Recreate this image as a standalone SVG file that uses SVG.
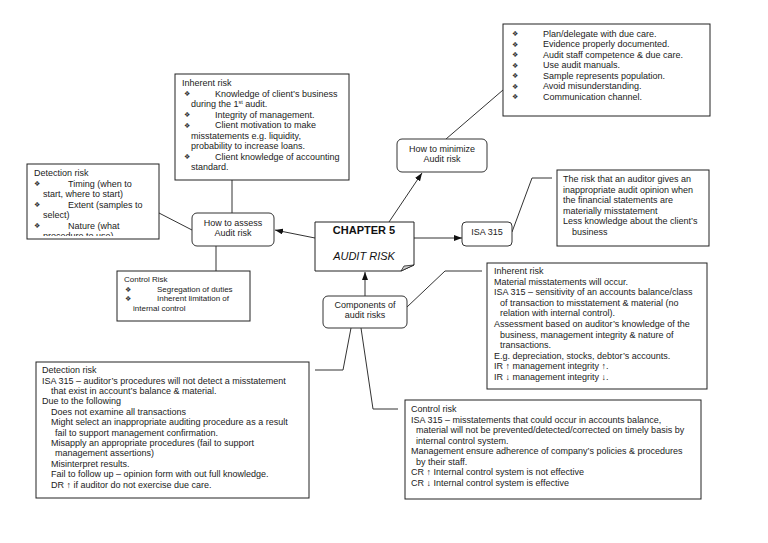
<svg xmlns="http://www.w3.org/2000/svg" width="768" height="543" viewBox="0 0 768 543">
<style>
.box{fill:#fff;stroke:#222;stroke-width:1}
.rbox{fill:#fff;stroke:#333;stroke-width:1}
.t{font-family:"Liberation Sans",Arial,sans-serif;font-size:9px;fill:#222}
.s{font-family:"Liberation Sans",Arial,sans-serif;font-size:8px;fill:#222}
.c{text-anchor:middle}
.b{font-family:"DejaVu Sans",sans-serif;font-size:7px;fill:#333}
.ln{fill:none;stroke:#333;stroke-width:1}
</style>
<defs>
<marker id="ar" markerWidth="8" markerHeight="6" refX="8" refY="3" orient="auto" markerUnits="userSpaceOnUse">
<path d="M0,0 L8,3 L0,6 Z" fill="#111"/>
</marker>
<clipPath id="clipDet"><rect x="27" y="164" width="132" height="72"/></clipPath>
</defs>
<rect width="768" height="543" fill="#fff"/>

<g id="connectors">
<line class="ln" x1="414" y1="238" x2="462" y2="238" marker-end="url(#ar)"/>
<line class="ln" x1="389" y1="222" x2="422" y2="173" marker-end="url(#ar)"/>
<line class="ln" x1="315" y1="238" x2="275" y2="230" marker-end="url(#ar)"/>
<line class="ln" x1="365" y1="296" x2="365" y2="272" marker-end="url(#ar)"/>
<line class="ln" x1="446" y1="139" x2="503" y2="90"/>
<polyline class="ln" points="512,232 532,178 552,178"/>
<line class="ln" x1="232" y1="213" x2="232" y2="180"/>
<line class="ln" x1="192" y1="230" x2="159" y2="213"/>
<line class="ln" x1="216" y1="246" x2="216" y2="271"/>
<polyline class="ln" points="407,307 445,271 482,271"/>
<polyline class="ln" points="351,328 343,370 315,370"/>
<polyline class="ln" points="361,328 373,409 398,409"/>
</g>

<g id="chapter">
<path class="box" d="M315,222 H414 V265 L401,271 H315 Z"/>
<path d="M401,271 L404,266 L414,265 Z" fill="#ccc" stroke="#222" stroke-width="0.8"/>
<text x="364" y="234" class="c" font-family="'Liberation Sans',Arial,sans-serif" font-size="11" font-weight="bold" fill="#111">CHAPTER 5</text>
<text x="364" y="260" class="c" font-family="'Liberation Sans',Arial,sans-serif" font-size="11" font-style="italic" fill="#111">AUDIT RISK</text>
</g>

<g id="isa315">
<rect class="rbox" x="462" y="222" width="50" height="24" rx="4"/>
<text class="t c" x="487" y="234.5">ISA 315</text>
</g>

<g id="isa-desc">
<rect class="box" x="557" y="170" width="152" height="76"/>
<text class="t"><tspan x="563" y="182">The risk that an auditor gives an</tspan><tspan x="563" y="192.5">inappropriate audit opinion when</tspan><tspan x="563" y="203">the financial statements are</tspan><tspan x="563" y="213.5">materially misstatement</tspan><tspan x="563" y="224">Less knowledge about the client’s</tspan><tspan x="572" y="234.5">business</tspan></text>
</g>

<g id="minimize">
<rect class="rbox" x="397" y="139" width="90" height="33" rx="5"/>
<text class="t c"><tspan x="442" y="152">How to minimize</tspan><tspan x="442" y="162">Audit risk</tspan></text>
</g>

<g id="minimize-list">
<rect class="box" x="503" y="24" width="207" height="92"/>
<g class="b"><text x="512" y="36">❖</text><text x="512" y="46.5">❖</text><text x="512" y="57">❖</text><text x="512" y="67.5">❖</text><text x="512" y="78">❖</text><text x="512" y="88.5">❖</text><text x="512" y="99">❖</text></g>
<text class="t"><tspan x="543" y="36.5">Plan/delegate with due care.</tspan><tspan x="543" y="47">Evidence properly documented.</tspan><tspan x="543" y="57.5">Audit staff competence &amp; due care.</tspan><tspan x="543" y="68">Use audit manuals.</tspan><tspan x="543" y="78.5">Sample represents population.</tspan><tspan x="543" y="89">Avoid misunderstanding.</tspan><tspan x="543" y="99.5">Communication channel.</tspan></text>
</g>

<g id="assess">
<rect class="rbox" x="192" y="213" width="82" height="33" rx="5"/>
<text class="t c"><tspan x="233" y="226">How to assess</tspan><tspan x="233" y="236">Audit risk</tspan></text>
</g>

<g id="inherent-top">
<rect class="box" x="175" y="74" width="174" height="106"/>
<g class="b"><text x="184" y="96">❖</text><text x="184" y="117">❖</text><text x="184" y="127.5">❖</text><text x="184" y="159">❖</text></g>
<text class="t"><tspan x="182" y="86">Inherent risk</tspan><tspan x="215" y="96.5">Knowledge of client’s business</tspan><tspan x="191" y="107">during the 1</tspan><tspan font-size="5.5" dy="-3">st</tspan><tspan dy="3"> audit.</tspan><tspan x="215" y="117.5">Integrity of management.</tspan><tspan x="215" y="128">Client motivation to make</tspan><tspan x="191" y="138.5">misstatements e.g. liquidity,</tspan><tspan x="191" y="149">probability to increase loans.</tspan><tspan x="215" y="159.5">Client knowledge of accounting</tspan><tspan x="191" y="170">standard.</tspan></text>
</g>

<g id="detection-top">
<rect class="box" x="27" y="164" width="132" height="75"/>
<g clip-path="url(#clipDet)">
<g class="b"><text x="34" y="186">❖</text><text x="34" y="207">❖</text><text x="34" y="228">❖</text></g>
<text class="t"><tspan x="34" y="176">Detection risk</tspan><tspan x="68" y="186.5">Timing (when to</tspan><tspan x="43" y="197">start, where to start)</tspan><tspan x="68" y="207.5">Extent (samples to</tspan><tspan x="43" y="218">select)</tspan><tspan x="68" y="228.5">Nature (what</tspan><tspan x="43" y="239">procedure to use)</tspan></text>
</g>
</g>

<g id="control-small">
<rect class="box" x="117" y="271" width="133" height="50"/>
<g class="b" font-size="6.5"><text x="125" y="291.5">❖</text><text x="125" y="301">❖</text></g>
<text class="s"><tspan x="124" y="282">Control Risk</tspan><tspan x="157" y="291.7">Segregation of duties</tspan><tspan x="157" y="301.4">Inherent limitation of</tspan><tspan x="133" y="311">internal control</tspan></text>
</g>

<g id="components">
<rect class="rbox" x="323" y="296" width="84" height="32" rx="5"/>
<text class="t c"><tspan x="365" y="308">Components of</tspan><tspan x="365" y="318">audit risks</tspan></text>
</g>

<g id="inherent-right">
<rect class="box" x="487" y="263" width="220" height="126"/>
<text class="t"><tspan x="494" y="274">Inherent risk</tspan><tspan x="494" y="284.6">Material misstatements will occur.</tspan><tspan x="494" y="295.2">ISA 315 – sensitivity of an accounts balance/class</tspan><tspan x="500" y="305.8">of transaction to misstatement &amp; material (no</tspan><tspan x="500" y="316.4">relation with internal control).</tspan><tspan x="494" y="327">Assessment based on auditor’s knowledge of the</tspan><tspan x="500" y="337.6">business, management integrity &amp; nature of</tspan><tspan x="500" y="348.2">transactions.</tspan><tspan x="494" y="358.8">E.g. depreciation, stocks, debtor’s accounts.</tspan><tspan x="494" y="369.4">IR ↑ management integrity ↑.</tspan><tspan x="494" y="380">IR ↓ management integrity ↓.</tspan></text>
</g>

<g id="detection-bottom">
<rect class="box" x="36" y="362" width="273" height="136"/>
<text class="t"><tspan x="42" y="373">Detection risk</tspan><tspan x="42" y="383.5">ISA 315 – auditor’s procedures will not detect a misstatement</tspan><tspan x="51" y="394">that exist in account’s balance &amp; material.</tspan><tspan x="42" y="404.4">Due to the following</tspan><tspan x="51" y="414.8">Does not examine all transactions</tspan><tspan x="51" y="425.2">Might select an inappropriate auditing procedure as a result</tspan><tspan x="55" y="435.6">fail to support management confirmation.</tspan><tspan x="51" y="446">Misapply an appropriate procedures (fail to support</tspan><tspan x="55" y="456.4">management assertions)</tspan><tspan x="51" y="466.8">Misinterpret results.</tspan><tspan x="51" y="477.2">Fail to follow up – opinion form with out full knowledge.</tspan><tspan x="51" y="487.6">DR ↑ if auditor do not exercise due care.</tspan></text>
</g>

<g id="control-right">
<rect class="box" x="405" y="400" width="296" height="99"/>
<text class="t"><tspan x="411" y="412">Control risk</tspan><tspan x="411" y="422.5">ISA 315 – misstatements that could occur in accounts balance,</tspan><tspan x="416" y="433">material will not be prevented/detected/corrected on timely basis by</tspan><tspan x="416" y="443.5">internal control system.</tspan><tspan x="411" y="454">Management ensure adherence of company’s policies &amp; procedures</tspan><tspan x="416" y="464.5">by their staff.</tspan><tspan x="411" y="475">CR ↑ Internal control system is not effective</tspan><tspan x="411" y="485.5">CR ↓ Internal control system is effective</tspan></text>
</g>
</svg>
